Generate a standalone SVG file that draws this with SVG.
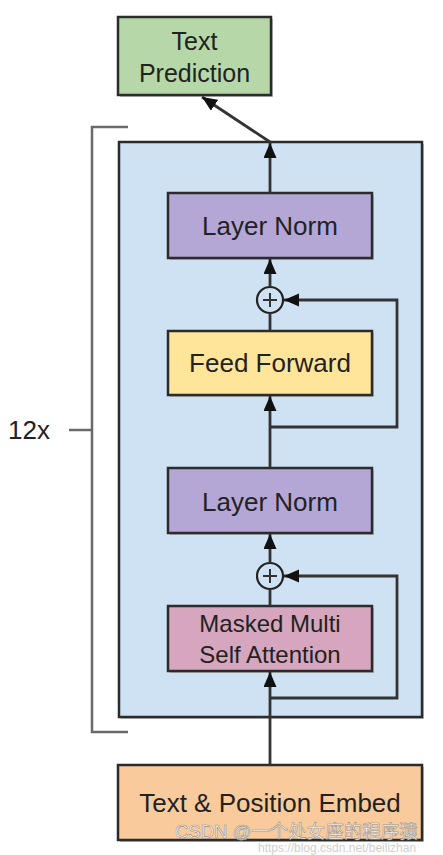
<svg xmlns="http://www.w3.org/2000/svg" width="443" height="855" viewBox="0 0 443 855">
<style>
.box{stroke:#2b2b2b;stroke-width:2.5}
.sh{fill:#9a9a9a;opacity:0.6}
.t{font-family:"Liberation Sans",Arial,sans-serif;font-size:26px;fill:#222;text-anchor:middle}
.c{fill:none;stroke:#333;stroke-width:2.8}
.br{fill:none;stroke:#6a6a6a;stroke-width:2.5}
</style>
<defs>
<marker id="ah" markerUnits="userSpaceOnUse" markerWidth="16" markerHeight="14" refX="15" refY="6.5" orient="auto">
<path d="M0,0 L15,6.5 L0,13 z" fill="#111"/>
</marker>
</defs>
<rect width="443" height="855" fill="#fff"/>
<g id="bracket">
<path class="br" d="M128,127 H92 V732 H128"/>
<path class="br" d="M69,430 H92"/>
<text x="8" y="439" style="font-family:'Liberation Sans',Arial,sans-serif;font-size:26px;fill:#222">12x</text>
</g>
<g id="container">
<rect x="121" y="144" width="303" height="575" class="sh"/>
<rect x="119" y="142" width="303" height="575" fill="#cfe2f3" class="box"/>
</g>
<g id="text-prediction">
<rect x="120" y="19" width="153" height="78" class="sh"/>
<rect x="118" y="17" width="153" height="78" fill="#b6d7a8" class="box"/>
<text class="t" x="194.5" y="50" style="font-size:25px">Text</text>
<text class="t" x="194.5" y="82" style="font-size:25px">Prediction</text>
</g>
<g id="layer-norm-1">
<rect x="170" y="195" width="204" height="65" class="sh"/>
<rect x="168" y="193" width="204" height="65" fill="#b4a7d6" class="box"/>
<text class="t" x="270" y="235">Layer Norm</text>
</g>
<g id="add-1">
<circle cx="270" cy="300" r="13" fill="#cfe2f3" stroke="#222" stroke-width="2.2"/>
<path d="M263,300 H277 M270,293 V307" stroke="#333" stroke-width="2"/>
</g>
<g id="feed-forward">
<rect x="170" y="333" width="204" height="64" class="sh"/>
<rect x="168" y="331" width="204" height="64" fill="#ffe599" class="box"/>
<text class="t" x="270" y="372">Feed Forward</text>
</g>
<g id="layer-norm-2">
<rect x="170" y="470" width="204" height="65" class="sh"/>
<rect x="168" y="468" width="204" height="65" fill="#b4a7d6" class="box"/>
<text class="t" x="270" y="511">Layer Norm</text>
</g>
<g id="add-2">
<circle cx="270" cy="576" r="13" fill="#cfe2f3" stroke="#222" stroke-width="2.2"/>
<path d="M263,576 H277 M270,569 V583" stroke="#333" stroke-width="2"/>
</g>
<g id="masked-attention">
<rect x="170" y="608" width="204" height="65" class="sh"/>
<rect x="168" y="606" width="204" height="65" fill="#d5a6bd" class="box"/>
<text class="t" x="270" y="632" style="font-size:24px">Masked Multi</text>
<text class="t" x="270" y="663" style="font-size:24px">Self Attention</text>
</g>
<g id="embed">
<rect x="120" y="767" width="304" height="75" class="sh"/>
<rect x="118" y="765" width="304" height="75" fill="#f9cb9c" class="box"/>
<text class="t" x="270" y="812">Text &amp; Position Embed</text>
</g>
<g id="connectors">
<path class="c" d="M270,765 V672" marker-end="url(#ah)"/>
<path class="c" d="M270,698 H397 V576 H284" marker-end="url(#ah)"/>
<path class="c" d="M270,606 V589"/>
<path class="c" d="M270,563 V534" marker-end="url(#ah)"/>
<path class="c" d="M270,468 V396" marker-end="url(#ah)"/>
<path class="c" d="M270,427 H397 V300 H284" marker-end="url(#ah)"/>
<path class="c" d="M270,331 V313"/>
<path class="c" d="M270,287 V259" marker-end="url(#ah)"/>
<path class="c" d="M270,193 V143" marker-end="url(#ah)"/>
<path class="c" d="M270,142 L202,97" marker-end="url(#ah)"/>
</g>
<g id="watermark">
<text x="175" y="838" style="font-family:'Liberation Sans','Noto Sans CJK SC',sans-serif;font-size:18.5px;fill:#fff;stroke:#8a8a8a;stroke-width:0.6;opacity:0.9">CSDN @一个处女座的程序猿</text>
<text x="258" y="852" style="font-family:'Liberation Sans',Arial,sans-serif;font-size:12px;fill:#d0d0d0">https://blog.csdn.net/beilizhan</text>
</g>
</svg>
